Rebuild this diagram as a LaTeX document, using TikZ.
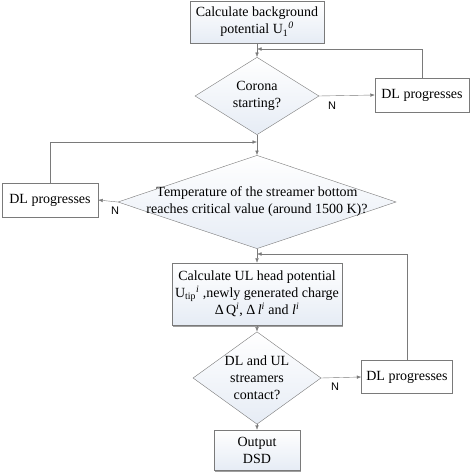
\documentclass[tikz,border=0pt]{standalone}
\usepackage{fontspec}
\setmainfont{Liberation Serif}
\newfontfamily\lettreN{Liberation Sans}
\usetikzlibrary{arrows.meta, shapes.geometric, shadows, calc}
\definecolor{traitgris}{HTML}{7A7A7A}
\definecolor{fondbleu}{HTML}{E6ECF5}

\begin{document}
\begin{tikzpicture}[x=1pt, y=-1pt, >={Latex[length=4.5pt,width=3.5pt]},
  every node/.style={font=\fontsize{14}{17}\selectfont, align=center},
  etape/.style={draw=traitgris, rectangle, inner sep=0pt, top color=white, bottom color=fondbleu,
    drop shadow={shadow xshift=1.2pt, shadow yshift=-1.5pt, fill=gray!75, opacity=1}},
  boucle/.style={draw=traitgris, rectangle, fill=white, inner sep=0pt, minimum height=34pt},
  test/.style={draw=traitgris, diamond, inner sep=0pt, top color=white, bottom color=fondbleu},
  fleche/.style={->, draw=traitgris, thin},
  nonlabel/.style={font=\lettreN\fontsize{11}{12}\selectfont, inner sep=0pt}]

  \useasboundingbox (0,0) rectangle (474,473);

  % Main steps
  \node[etape, minimum width=134pt, minimum height=42pt] (calcbg) at (257,22)
    {Calculate background\\potential U\textsubscript{1}\textsuperscript{\textit{0}}};
  \node[test, minimum width=124pt, minimum height=76pt] (corona) at (257,96)
    {Corona\\starting?};
  \node[test, aspect=2.98, inner sep=-4pt, minimum width=274pt, minimum height=92pt] (temp) at (257,202)
    {Temperature of the streamer bottom\\reaches critical value (around 1500 K)?};
  \node[etape, minimum width=170pt, minimum height=62pt] (calcul) at (257,294)
    {Calculate UL head potential\\U\textsubscript{tip}\textsuperscript{\textit{i}} ,newly generated charge\\
     Δ\,Q\textsuperscript{\textit{i}}, Δ\,\textit{l}\textsuperscript{\textit{i}} and \textit{l}\textsuperscript{\textit{i}}};
  \node[test, inner sep=-4pt, minimum width=128pt, minimum height=76pt] (contact) at (257,378)
    {DL and UL\\streamers\\contact?};
  \node[etape, minimum width=86pt, minimum height=40pt] (output) at (257,450)
    {Output\\DSD};

  % DL progresses loops
  \node[boucle, minimum width=94pt] (dl1) at (422,95) {DL progresses};
  \node[boucle, minimum width=96pt] (dl2) at (50,200) {DL progresses};
  \node[boucle, minimum width=91pt, minimum height=33pt] (dl3) at (407,377) {DL progresses};

  \coordinate (j1) at (257,49);
  \coordinate (j2) at (257,142);
  \coordinate (j3) at (257,254);

  % Main line
  \draw[fleche] (calcbg) -- (corona);
  \draw[fleche] (corona) -- (temp);
  \draw[fleche] (temp) -- (calcul);
  \draw[fleche] (calcul) -- (contact);
  \draw[fleche] (contact) -- (output);

  % No branches
  \draw[fleche] (corona.east) -- (dl1.west);
  \draw[fleche] (temp.west) -- (dl2.east);
  \draw[fleche] (contact.east) -- (dl3.west);
  \node[nonlabel] (n1) at (332,106) {N};
  \node[nonlabel] (n2) at (115,211) {N};
  \node[nonlabel] (n3) at (335,387) {N};

  % Back to the main line
  \draw[fleche] (dl1.north) |- (j1);
  \draw[fleche] (dl2.north) |- (j2);
  \draw[fleche] (dl3.north) |- (j3);

\end{tikzpicture}
\end{document}
